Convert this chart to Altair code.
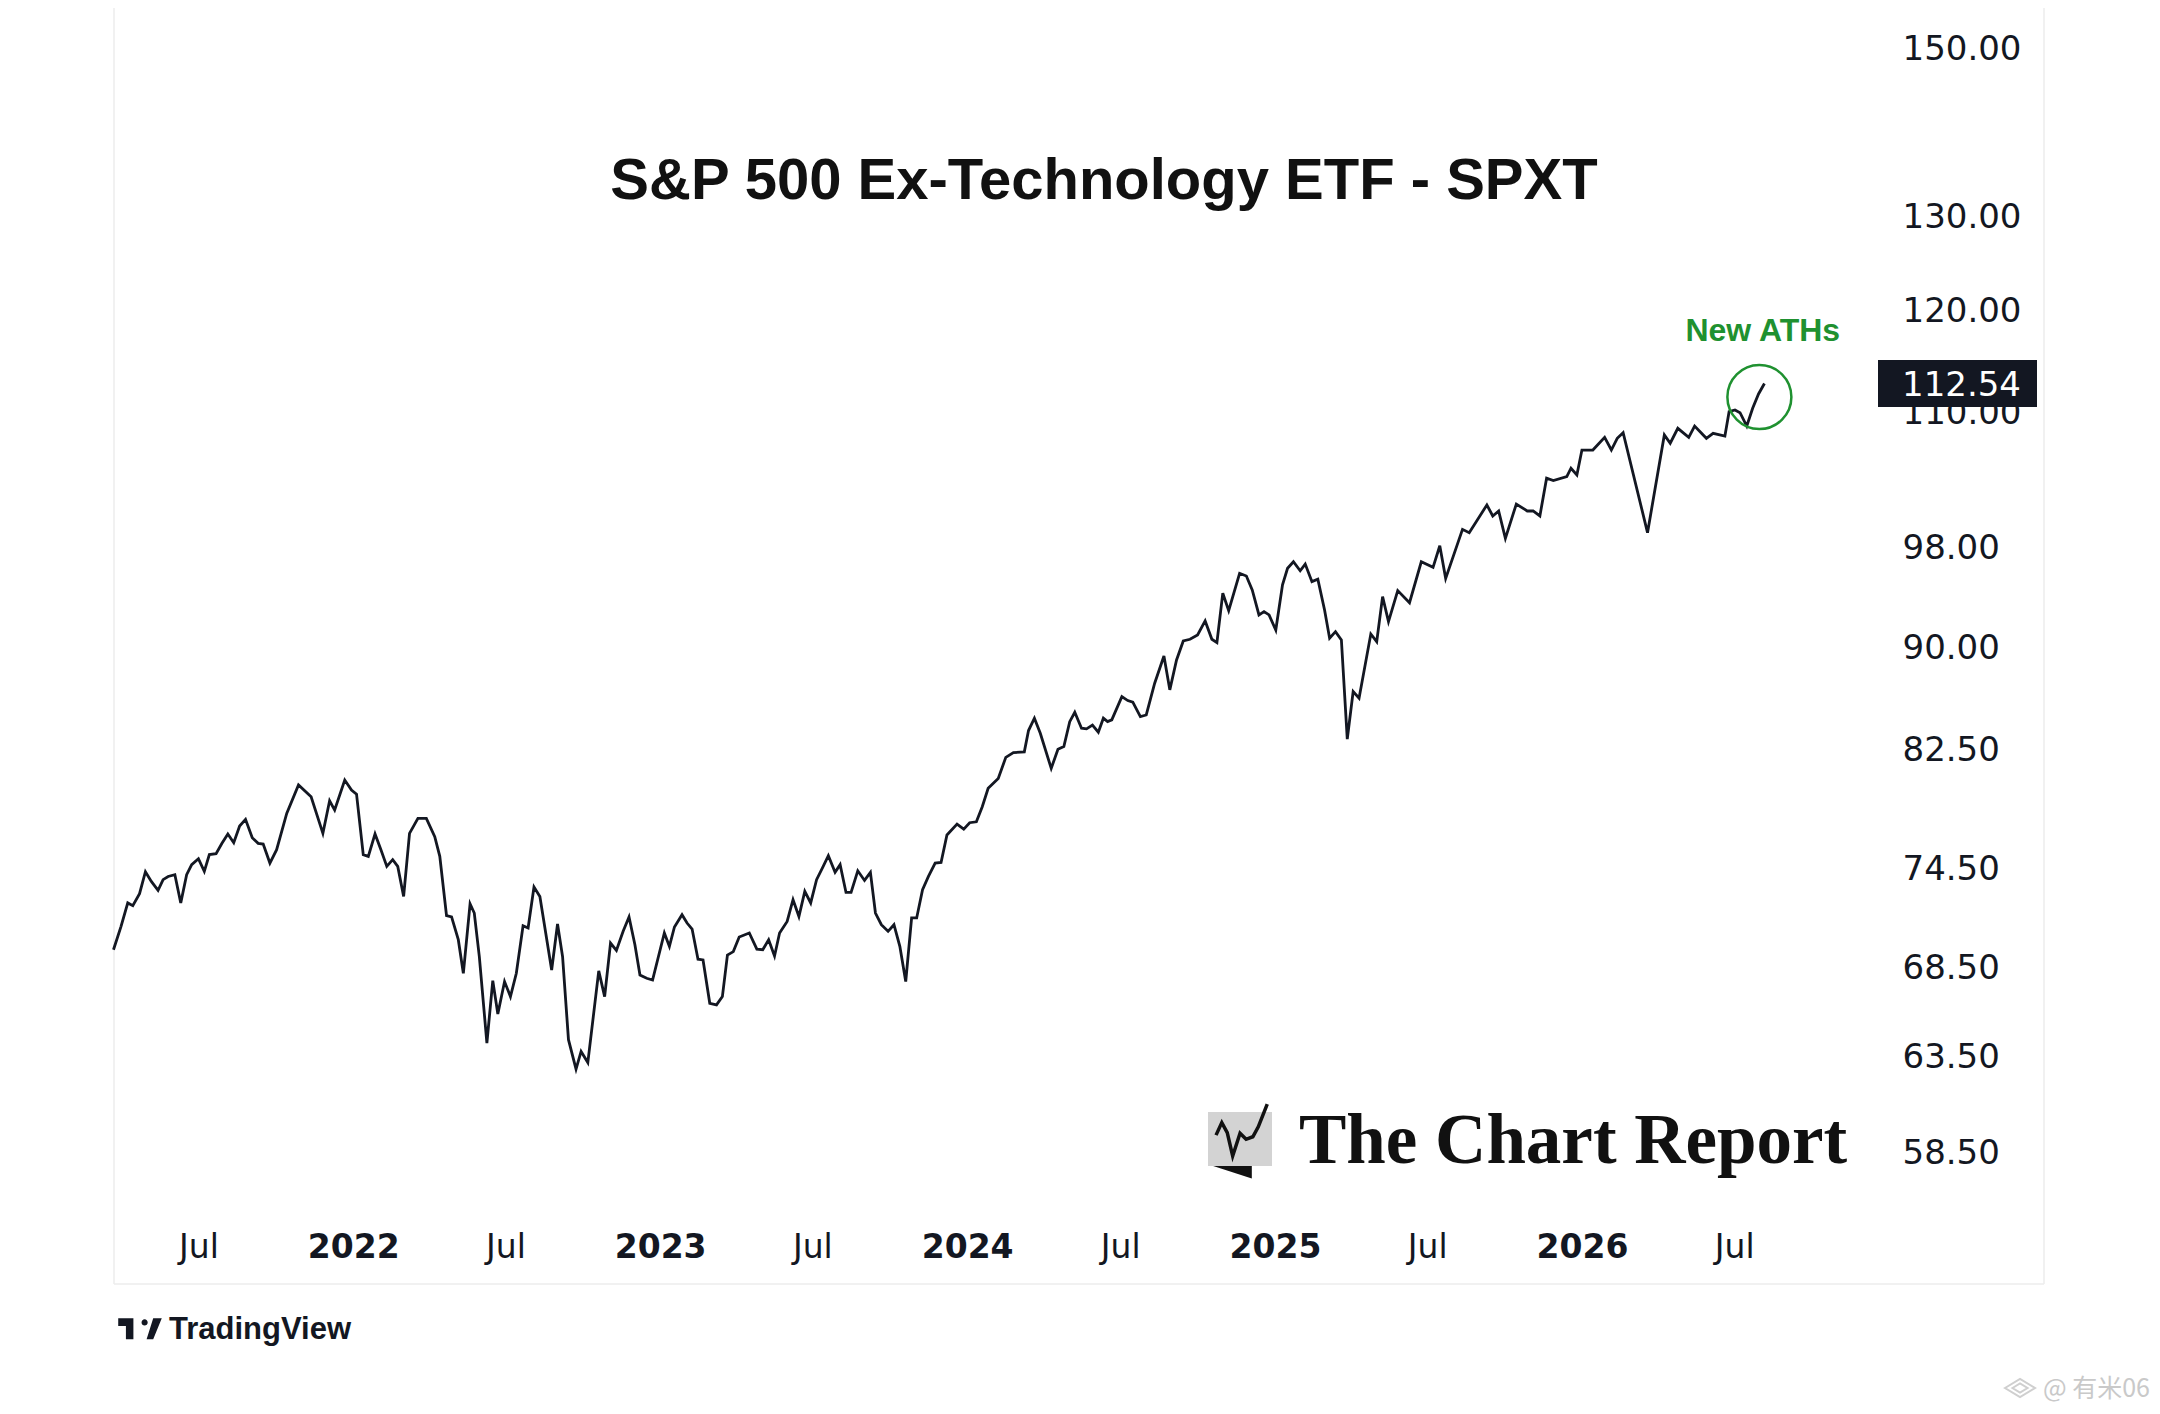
import altair as alt
import pandas as pd

TITLE = "S&P 500 Ex-Technology ETF - SPXT"
ANNOT = "New ATHs"
BRAND = "The Chart Report"
TV_TEXT = "TradingView"
WATERMARK = "@ 有米06"
LAST_PRICE = 112.54

dates = [
    "2021-03-22", "2021-03-31", "2021-04-08", "2021-04-14", "2021-04-22", "2021-04-29", "2021-05-06", "2021-05-14", "2021-05-20", "2021-05-26",
    "2021-06-03", "2021-06-10", "2021-06-17", "2021-06-23", "2021-07-01", "2021-07-08", "2021-07-14", "2021-07-22", "2021-07-29", "2021-08-05",
    "2021-08-12", "2021-08-19", "2021-08-26", "2021-09-03", "2021-09-10", "2021-09-16", "2021-09-24", "2021-10-02", "2021-10-14", "2021-10-28",
    "2021-11-12", "2021-11-26", "2021-12-04", "2021-12-10", "2021-12-22", "2021-12-30", "2022-01-05", "2022-01-13", "2022-01-19", "2022-01-27",
    "2022-02-03", "2022-02-10", "2022-02-17", "2022-02-23", "2022-03-02", "2022-03-09", "2022-03-19", "2022-03-29", "2022-04-08", "2022-04-14",
    "2022-04-22", "2022-04-28", "2022-05-06", "2022-05-12", "2022-05-20", "2022-05-25", "2022-05-31", "2022-06-09", "2022-06-16", "2022-06-22",
    "2022-06-30", "2022-07-07", "2022-07-14", "2022-07-22", "2022-07-28", "2022-08-04", "2022-08-11", "2022-08-25", "2022-09-01", "2022-09-07",
    "2022-09-14", "2022-09-23", "2022-09-29", "2022-10-07", "2022-10-20", "2022-10-27", "2022-11-03", "2022-11-10", "2022-11-18", "2022-11-25",
    "2022-12-02", "2022-12-08", "2022-12-16", "2022-12-23", "2023-01-06", "2023-01-12", "2023-01-18", "2023-01-27", "2023-02-02", "2023-02-08",
    "2023-02-15", "2023-02-21", "2023-03-01", "2023-03-09", "2023-03-16", "2023-03-22", "2023-03-29", "2023-04-05", "2023-04-17", "2023-04-26",
    "2023-05-03", "2023-05-10", "2023-05-17", "2023-05-23", "2023-06-01", "2023-06-08", "2023-06-15", "2023-06-22", "2023-06-29", "2023-07-06",
    "2023-07-13", "2023-07-20", "2023-07-28", "2023-08-03", "2023-08-10", "2023-08-16", "2023-08-24", "2023-09-01", "2023-09-08", "2023-09-14",
    "2023-09-21", "2023-09-29", "2023-10-06", "2023-10-13", "2023-10-20", "2023-10-27", "2023-11-02", "2023-11-09", "2023-11-16", "2023-11-24",
    "2023-12-01", "2023-12-08", "2023-12-20", "2023-12-28", "2024-01-04", "2024-01-12", "2024-01-19", "2024-01-26", "2024-02-07", "2024-02-16",
    "2024-02-25", "2024-03-09", "2024-03-14", "2024-03-21", "2024-03-28", "2024-04-10", "2024-04-18", "2024-04-25", "2024-05-02", "2024-05-08",
    "2024-05-16", "2024-05-22", "2024-05-29", "2024-06-05", "2024-06-11", "2024-06-16", "2024-06-21", "2024-07-03", "2024-07-10", "2024-07-16",
    "2024-07-25", "2024-08-01", "2024-08-11", "2024-08-22", "2024-08-29", "2024-09-06", "2024-09-14", "2024-09-22", "2024-10-01", "2024-10-10",
    "2024-10-18", "2024-10-24", "2024-10-31", "2024-11-07", "2024-11-20", "2024-11-28", "2024-12-05", "2024-12-13", "2024-12-19", "2024-12-25",
    "2025-01-02", "2025-01-10", "2025-01-16", "2025-01-23", "2025-01-31", "2025-02-06", "2025-02-14", "2025-02-21", "2025-03-01", "2025-03-07",
    "2025-03-14", "2025-03-21", "2025-03-28", "2025-04-04", "2025-04-11", "2025-04-25", "2025-05-02", "2025-05-09", "2025-05-16", "2025-05-27",
    "2025-06-10", "2025-06-24", "2025-07-08", "2025-07-16", "2025-07-23", "2025-08-12", "2025-08-20", "2025-09-10", "2025-09-17", "2025-09-24",
    "2025-10-02", "2025-10-15", "2025-10-28", "2025-11-04", "2025-11-12", "2025-11-20", "2025-11-28", "2025-12-14", "2025-12-19", "2025-12-26",
    "2026-01-01", "2026-01-14", "2026-01-28", "2026-02-05", "2026-02-12", "2026-02-19", "2026-03-20", "2026-04-09", "2026-04-16", "2026-04-25",
    "2026-05-08", "2026-05-15", "2026-05-29", "2026-06-06", "2026-06-20", "2026-06-25", "2026-07-02", "2026-07-08", "2026-07-16", "2026-07-23",
    "2026-07-30", "2026-08-06",
]

closes = [
    69.41, 70.81, 72.24, 72.07, 72.81, 74.19, 73.58, 73.02, 73.69, 73.89,
    74.00, 72.24, 74.00, 74.64, 75.02, 74.21, 75.28, 75.34, 76.01, 76.62,
    76.05, 77.14, 77.58, 76.37, 76.01, 75.96, 74.74, 75.60, 77.98, 79.89,
    79.09, 76.66, 78.82, 78.20, 80.23, 79.55, 79.27, 75.28, 75.17, 76.62,
    75.60, 74.53, 74.96, 74.53, 72.64, 76.66, 77.65, 77.65, 76.44, 75.17,
    71.46, 71.38, 70.01, 68.03, 72.19, 71.62, 69.00, 64.10, 67.60, 65.71,
    67.55, 66.69, 68.03, 70.85, 70.71, 73.23, 72.64, 68.22, 70.95, 69.00,
    64.28, 62.69, 63.64, 63.04, 68.17, 66.69, 69.81, 69.37, 70.51, 71.38,
    69.71, 67.93, 67.74, 67.64, 70.41, 69.61, 70.77, 71.52, 71.01, 70.65,
    68.85, 68.81, 66.31, 66.22, 66.69, 69.10, 69.30, 70.17, 70.41, 69.45,
    69.41, 70.01, 69.04, 70.41, 71.11, 72.44, 71.41, 72.96, 72.24, 73.69,
    74.43, 75.21, 74.15, 74.64, 72.89, 72.89, 74.25, 73.64, 74.15, 71.62,
    70.91, 70.51, 70.91, 69.61, 67.55, 71.32, 71.32, 73.06, 73.89, 74.74,
    74.78, 76.55, 77.27, 76.94, 77.36, 77.42, 78.42, 79.66, 80.34, 81.80,
    82.13, 82.18, 83.69, 84.58, 83.50, 81.03, 82.37, 82.56, 84.33, 85.01,
    83.86, 83.81, 84.08, 83.57, 84.58, 84.33, 84.46, 86.15, 85.86, 85.74,
    84.69, 84.81, 87.14, 89.19, 86.65, 88.89, 90.34, 90.47, 90.81, 91.90,
    90.47, 90.21, 94.10, 92.71, 95.71, 95.49, 94.36, 92.37, 92.63, 92.37,
    91.19, 94.77, 96.12, 96.66, 95.92, 96.47, 95.03, 95.23, 92.76, 90.55,
    91.06, 90.42, 83.08, 86.52, 86.03, 90.88, 90.29, 93.82, 91.84, 94.31,
    93.34, 96.66, 96.20, 97.99, 95.30, 99.37, 99.09, 101.46, 100.51, 100.94,
    98.61, 101.54, 100.94, 100.94, 100.51, 103.80, 103.59, 103.94, 104.69, 104.09,
    106.33, 106.33, 107.49, 106.33, 107.40, 107.92, 99.09, 107.71, 106.95, 108.32,
    107.49, 108.53, 107.40, 107.86, 107.61, 109.87, 110.03, 109.77, 108.53, 110.19,
    111.54, 112.54,
]

y_ticks = [58.5, 63.5, 68.5, 74.5, 82.5, 90.0, 98.0, 110.0, 120.0, 130.0, 150.0]
x_tick_dates = [(2021, 7), (2022, 1), (2022, 7), (2023, 1), (2023, 7), (2024, 1),
                (2024, 7), (2025, 1), (2025, 7), (2026, 1), (2026, 7)]
x_tick_labels = ["Jul", "2022", "Jul", "2023", "Jul", "2024", "Jul", "2025", "Jul", "2026", "Jul"]

annot_date, annot_value = "2026-08-04", 117.7
circle_date, circle_value = "2026-07-31", 111.25

# ---------------------------------------------------------------- styling
INK = "#131722"
GREEN = "#1f9130"
PLOT_W, PLOT_H = 1766, 1200

df = pd.DataFrame({"date": pd.to_datetime(dates), "close": closes})

label_expr = "''"
for (yy, mm), lab in reversed(list(zip(x_tick_dates, x_tick_labels))):
    label_expr = f"(year(datum.value) == {yy} && month(datum.value) == {mm - 1}) ? '{lab}' : " + label_expr

x_scale = alt.Scale(domain=[alt.DateTime(year=2021, month=3, date=22, hours=15),
                            alt.DateTime(year=2026, month=12, date=21, hours=10)])
x_axis = alt.Axis(
    values=[alt.DateTime(year=yy, month=mm, date=1) for yy, mm in x_tick_dates],
    labelExpr=label_expr,
    labelFontWeight={"condition": {"test": "month(datum.value) == 0", "value": "bold"}, "value": "normal"},
    labelFont="DejaVu Sans", labelFontSize=33, labelColor=INK,
    labelPadding=39, labelBaseline="middle", labelAngle=0, labelFlush=False,
    labelOverlap=False, domain=False, ticks=False, grid=False, title=None,
)
y_scale = alt.Scale(type="log", domain=[55.68, 155.06], nice=False, zero=False)
y_axis = alt.Axis(
    orient="right", values=y_ticks, format=".2f",
    labelFont="DejaVu Sans", labelFontSize=34, labelColor=INK,
    labelAlign="left", labelBaseline="middle", labelPadding=22, labelOffset=3,
    labelOverlap=False, labelFlush=False,
    domain=False, ticks=False, grid=False, title=None,
)
X = alt.X("date:T", scale=x_scale, axis=x_axis)
Y = alt.Y("close:Q", scale=y_scale, axis=y_axis)

line = alt.Chart(df).mark_line(color=INK, strokeWidth=2.8).encode(x=X, y=Y)

one = lambda **kw: pd.DataFrame({k: [v] for k, v in kw.items()})

# panel border
border_l = alt.Chart(one(a=0)).mark_rule(color="#ececec", strokeWidth=1.5).encode(
    x=alt.value(0), y=alt.value(-8), y2=alt.value(1276))
border_r = alt.Chart(one(a=0)).mark_rule(color="#ececec", strokeWidth=1.5).encode(
    x=alt.value(1930), y=alt.value(-8), y2=alt.value(1276))
border_b = alt.Chart(one(a=0)).mark_rule(color="#ececec", strokeWidth=1.5).encode(
    x=alt.value(0), x2=alt.value(1930), y=alt.value(1276))

# last price tag
last_df = one(close=LAST_PRICE)
tag = alt.Chart(last_df).mark_rule(color=INK, strokeWidth=47, strokeCap="butt").encode(
    x=alt.value(1764), x2=alt.value(1923), y=Y)
tag_text = alt.Chart(last_df).mark_text(
    align="left", baseline="middle", font="DejaVu Sans", fontSize=34, color="white", dy=2
).encode(x=alt.value(1788), y=Y, text=alt.Text("close:Q", format=".2f"))

# annotation
circle = alt.Chart(one(date=pd.Timestamp(circle_date), close=circle_value)).mark_point(
    shape="circle", size=4096, filled=False, stroke=GREEN, strokeWidth=2.5, opacity=1
).encode(x=X, y=Y)
annot = alt.Chart(one(date=pd.Timestamp(annot_date), close=annot_value, t=ANNOT)).mark_text(
    font="Liberation Sans", fontWeight="bold", fontSize=32, color=GREEN,
    align="center", baseline="middle"
).encode(x=X, y=Y, text="t:N")

# title
title = alt.Chart(one(t=TITLE)).mark_text(
    font="Liberation Sans", fontWeight="bold", fontSize=58, color="#111111",
    align="center", baseline="alphabetic"
).encode(x=alt.value(990), y=alt.value(191), text="t:N")

# brand logo
ZIG = "M-0.78,0.16L-0.60,-0.23L-0.43,0.08L-0.26,0.81L-0.03,0.10L0.16,0.29L0.37,0.21L0.54,-0.10L0.82,-0.81"
WEDGE = "M-0.94,-0.3L0.99,-0.3L0.99,0.32Z"
logo_box = alt.Chart(one(a=0)).mark_rect(color="#d3d3d3").encode(
    x=alt.value(1094), x2=alt.value(1158), y=alt.value(1104), y2=alt.value(1158))
logo_zig = alt.Chart(one(a=0)).mark_point(
    shape=ZIG, size=4096, filled=False, stroke="#111111", strokeWidth=3.5, opacity=1
).encode(x=alt.value(1127), y=alt.value(1122))
logo_wedge = alt.Chart(one(a=0)).mark_point(
    shape=WEDGE, size=1600, filled=True, color="#111111", opacity=1
).encode(x=alt.value(1118), y=alt.value(1164))
brand = alt.Chart(one(t=BRAND)).mark_text(
    font="Liberation Serif", fontWeight="bold", fontSize=71, color="#111111",
    align="left", baseline="alphabetic"
).encode(x=alt.value(1185), y=alt.value(1155), text="t:N")

# TradingView footer
TV_PATH = ("M-0.99,-0.49L-0.30,-0.49L-0.30,0.47L-0.64,0.47L-0.64,-0.14L-0.99,-0.14Z "
           "M0.07,-0.30A0.14,0.14,0,1,0,0.35,-0.30A0.14,0.14,0,1,0,0.07,-0.30Z "
           "M0.60,-0.49L0.99,-0.49L0.60,0.47L0.30,0.47Z")
tv_icon = alt.Chart(one(a=0)).mark_point(
    shape=TV_PATH, size=1936, filled=True, color=INK, opacity=1
).encode(x=alt.value(26), y=alt.value(1321))
tv_text = alt.Chart(one(t=TV_TEXT)).mark_text(
    font="Liberation Sans", fontWeight="bold", fontSize=31, color=INK,
    align="left", baseline="alphabetic"
).encode(x=alt.value(55), y=alt.value(1331), text="t:N")

# watermark
WM_ICON = "M-1,0L0,-0.6L1,0L0,0.6Z M-0.5,0L0,-0.3L0.5,0L0,0.3Z"
wm_icon = alt.Chart(one(a=0)).mark_point(
    shape=WM_ICON, size=900, filled=False, stroke="#cfcfcf", strokeWidth=2, opacity=1
).encode(x=alt.value(1906), y=alt.value(1380))
watermark = alt.Chart(one(t=WATERMARK)).mark_text(
    font="Noto Sans CJK SC", fontSize=25, color="#c9c9c9",
    align="right", baseline="alphabetic"
).encode(x=alt.value(2036), y=alt.value(1389), text="t:N")

chart = alt.layer(
    border_l, border_r, border_b,
    line, circle, annot, tag, tag_text, title,
    logo_box, logo_zig, logo_wedge, brand, tv_icon, tv_text, wm_icon, watermark,
).properties(
    width=PLOT_W, height=PLOT_H,
    autosize=alt.AutoSizeParams(type="none"),
    padding={"left": 106, "top": 0, "right": 272, "bottom": 198},
    background="white",
).configure_view(stroke=None)

chart.save("out.html", embed_options={"renderer": "svg", "actions": False})
